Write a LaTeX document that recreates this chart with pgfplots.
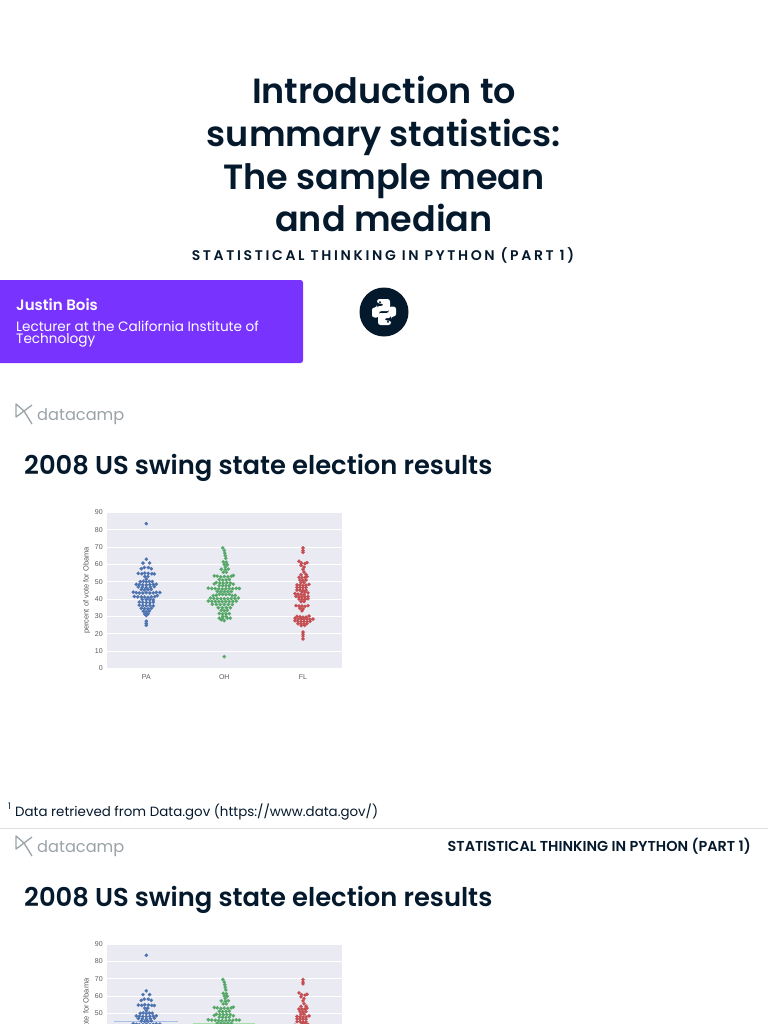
\documentclass[border=0pt]{standalone}
\usepackage{pgfplots}
\usepackage{pgfplotstable}
\usepackage{fontspec}
\pgfplotsset{compat=1.18}
\setmainfont{Poppins}
\newfontfamily\medfont{Poppins SemiBold}
\newfontfamily\plotfont{Liberation Sans}
\newfontfamily\spaced[LetterSpace=19]{Poppins SemiBold}

\definecolor{navy}{HTML}{05192D}
\definecolor{dcpurple}{HTML}{7933FF}
\definecolor{dcgrey}{HTML}{9BA3A8}
\definecolor{sbbg}{HTML}{EAEAF2}
\definecolor{sbtext}{HTML}{5A5A5A}
\definecolor{sbblue}{HTML}{4C72B0}
\definecolor{sbgreen}{HTML}{55A868}
\definecolor{sbred}{HTML}{C44E52}
\definecolor{meanblue}{HTML}{A9C0E8}
\definecolor{meangreen}{HTML}{A5E0A8}

% swarm positions: x is in reference pixels, PA=0, OH=78, FL=156.7
\pgfplotstableread{
x y
0 83.5
0 63
-3.3 60.8
3.3 60.8
-2 58.2
2 58.2
-5 57.5
5 57.5
-8 54.8
-4.5 54.6
-1.5 55
2 54.8
5.5 54.6
8 54.5
-1.5 53
1.5 53
0 51.5
-6 50
-3 50.3
0 49.9
3 50.2
6 50.1
-10 48.5
-7 48.3
-3.5 48.2
0 48.1
3.5 48.3
7 48.4
10 48.6
-8 47
-4 46.8
0 46.6
4 46.9
8 47.2
-5 45.5
-1.7 45.3
1.7 45.4
5 45.6
-13 44
-10 43.7
-7 43.5
-3.5 43.5
0 43.7
3.5 43.5
7 43.6
10 43.9
13.5 43.8
-12 41.5
-8.5 41.3
-5 41.2
-1.7 41.2
1.7 41
5 41.2
8.5 41.4
11 42
-4 39.8
0 39.7
3.5 39.6
7 39.5
-7 38.3
-3.5 38.1
0 38
3.5 37.9
7 38.2
-7 36.5
-3.5 36.3
0 36.2
3.5 36.3
7 36.1
-5 34.7
-1.7 34.5
1.7 34.4
5 34.7
-3 33
0 32.8
3 33.1
-1.7 31.4
1.7 31.5
0 30.5
0 27.2
0 25.9
0 24.9
}\tablePA

\pgfplotstableread{
x y
76.5 69.5
78 68
78.5 66.5
79 65
79.5 63.5
77 61.5
80 61.3
78 60
81 59.8
79 58.5
75 57.2
79 57
82 57.3
77 55.5
80 55.5
68 53.4
71 53.2
74.5 52.8
78 53
81.5 52.9
85 53.2
87 53.6
73 51.2
76.3 51
79.7 51.1
83 51.3
68 48.8
70 49.5
73.5 49.3
77 49.2
80.5 49.4
84 49.3
87 48.6
73 47.8
76.3 47.7
79.7 47.7
83 47.8
62 46.3
65.5 46.1
69 46
72.5 45.9
76 45.8
79.5 45.9
83 46
86.5 46
90 46.2
93 46.1
71 44.4
74.5 44.3
78 44.2
81.5 44.3
85 44.4
67 42
70 42.2
73 42.8
76.3 42.7
79.7 42.6
83 42.8
86 42
89 42.1
64 40.6
67.5 40.4
71 40.3
74.5 40.2
78 40.2
81.5 40.2
85 40.3
88.5 40.4
92 40.6
62 38.9
65.5 38.7
69 38.6
72.5 38.5
76 38.5
79.5 38.5
83 38.5
86.5 38.6
90 38.8
66 37
70 36.9
74 36.8
78 36.8
82 36.8
86 36.9
72 35
76 35
80 35
84 35
75 33.5
78 33.3
81 33.5
73 31.7
76.3 31.5
79.7 31.5
83 31.6
76.3 30
79.7 30
73 29
76.3 28.9
81 29
84 29
75 28
78 27.6
78 6.8
}\tableOH

\pgfplotstableread{
x y
156.7 69.5
156.7 68
156.7 67
152.7 61.8
155.2 60.8
158.7 60.5
160.7 61
154.7 59.5
157.7 58.5
156.7 57.2
157.7 55.6
154.7 54
159.7 54.2
152.7 52.5
155.7 52.4
158.7 52.5
160.7 53
153.7 51
156.7 50.8
159.7 51
154.7 49.5
157.7 49.5
150.7 48.2
153.7 48
156.7 47.8
159.7 48
162.7 48.5
150.7 46.8
153.7 46.6
156.7 46.6
159.7 46.7
150.7 45.2
153.7 45.2
156.7 45
159.7 45.1
155.7 44.2
158.7 44
161.7 43.6
148.7 43.2
151.7 42.8
154.7 42.7
157.7 42.6
149.7 41.6
152.7 41.2
155.7 41.3
158.7 41.3
161.7 41.5
152.7 40
155.7 39.9
158.7 39.9
161.7 40.2
154.7 38.5
157.7 38.6
149.7 36.2
152.7 36
155.7 36
158.7 35.8
161.7 36.2
153.7 34.6
156.7 34.3
155.7 33.2
150.7 30
153.7 29.8
156.7 29.5
159.7 29.6
162.7 30.2
148.7 29
151.7 28.5
154.7 28.4
157.7 28.3
160.7 28.6
163.7 28.3
166.7 28.5
148.7 27.5
151.7 27
154.7 27
157.7 27
160.7 27
163.7 27.2
151.7 25.8
154.7 25.7
157.7 25.7
160.7 25.9
155 24.7
158.4 24.8
156.7 21
156.7 19.8
156.7 18.6
156.7 17
}\tableFL

\pgfplotsset{
  swarm/.style={
    scale only axis, width=234.4pt, height=156pt,
    xmin=-39, xmax=195.4, ymin=0, ymax=90,
    xtick={0,78,156.7}, xticklabels={PA,OH,FL},
    ytick={0,10,...,90},
    axis background/.style={fill=sbbg},
    axis line style={draw=none},
    major tick length=0pt,
    ymajorgrids, grid style={white,line width=0.9pt},
    ticklabel style={font=\plotfont\fontsize{7}{8}\selectfont,text=sbtext},
    /pgf/number format/assume math mode=true,
    yticklabel style={xshift=-1pt},
    xticklabel style={yshift=-3pt},
    ylabel={percent of vote for Obama},
    ylabel style={font=\plotfont\fontsize{7.5}{8}\selectfont,text=sbtext,yshift=-2pt},
  },
  dots/.style={only marks,color=#1,mark=*,mark size=1.75pt,mark options={solid,draw=#1,fill=#1,line width=0.1pt}},
}

% small logo, anchored at its top left corner
\newcommand{\dclogo}[2]{%
  \draw[dcgrey,line width=1.3pt,line join=round] (#1,#2+1) -- (#1,#2+14) -- (#1+8,#2+8) -- cycle;
  \draw[dcgrey,line width=1.3pt] (#1+8,#2+8) -- (#1+16,#2+2) (#1+8,#2+8) -- (#1+16,#2+21);
  \node[anchor=west,inner sep=0pt,text=dcgrey,font=\fontsize{16.2}{18}\selectfont] at (#1+21,#2+13.5) {datacamp};
}

\begin{document}
\begin{tikzpicture}[x=1pt,y=-1pt]
\useasboundingbox (0,0) rectangle (768,1024);
\clip (0,0) rectangle (768,1024);
\fill[white] (0,0) rectangle (768,1024);

% title slide
\foreach \ty/\tx in {104/Introduction to,147/summary statistics:,190/The sample mean,232/and median}
  \node[anchor=base,text=navy,inner sep=0pt,font=\medfont\fontsize{35}{40}\selectfont] at (384,\ty) {\tx};
\node[text=navy,inner sep=0pt,font=\spaced\fontsize{14}{16}\selectfont] at (383,255) {STATISTICAL THINKING IN PYTHON (PART 1)};

\fill[dcpurple,rounded corners=2.5pt] (-6,280) rectangle (303,363);
\node[anchor=west,inner sep=0pt,text=white,font=\medfont\fontsize{15}{17}\selectfont] at (16,305) {Justin Bois};
\node[anchor=west,inner sep=0pt,text=white,font=\fontsize{13.6}{15}\selectfont] at (16,326) {Lecturer at the California Institute of};
\node[anchor=west,inner sep=0pt,text=white,font=\fontsize{13.6}{15}\selectfont] at (16,340) {Technology};

% python badge
\fill[navy] (384,312) circle (24.5);
\fill[white,rounded corners=2.5pt] (372,313) -- (372,307.5) -- (377,307.5) -- (377,306) -- (383.5,306) -- (383.5,303.5) -- (377,303.5) -- (377,299) -- (390,299) -- (390,311) -- (379,311) -- (379,317.5) -- (372,317.5) -- cycle;
\fill[white,rounded corners=2.5pt] (396,311) -- (396,316.5) -- (391,316.5) -- (391,318) -- (384.5,318) -- (384.5,320.5) -- (391,320.5) -- (391,325) -- (378,325) -- (378,313) -- (389,313) -- (389,306.5) -- (396,306.5) -- cycle;
\fill[navy] (380,302.3) circle (1.1) (388,321.7) circle (1.1);

% first chart slide
\dclogo{16}{403}
\node[anchor=base west,inner sep=0pt,text=navy,font=\medfont\fontsize{25.8}{30}\selectfont] at (24,474) {2008 US swing state election results};

\begin{axis}[swarm,at={(107.3pt,-668.4pt)},anchor=south west]
\addplot[dots=sbblue] table[x=x,y=y] {\tablePA};
\addplot[dots=sbgreen] table[x=x,y=y] {\tableOH};
\addplot[dots=sbred] table[x=x,y=y] {\tableFL};
\end{axis}

\node[anchor=west,inner sep=0pt,text=navy,font=\fontsize{13.4}{16}\selectfont] at (15,811.5) {Data retrieved from Data.gov (https://www.data.gov/)};
\node[anchor=west,inner sep=0pt,text=navy,font=\fontsize{9}{10}\selectfont] at (8,806.5) {1};
\draw[gray!25,line width=0.8pt] (0,828) -- (768,828);

% second chart slide, cut off by the page
\dclogo{16}{835}
\node[anchor=east,inner sep=0pt,text=navy,font=\medfont\fontsize{14.4}{15}\selectfont] at (751,846) {STATISTICAL THINKING IN PYTHON (PART 1)};
\node[anchor=base west,inner sep=0pt,text=navy,font=\medfont\fontsize{25.8}{30}\selectfont] at (24,906) {2008 US swing state election results};

\begin{axis}[swarm,at={(107.3pt,-1100pt)},anchor=south west]
\addplot[meanblue,line width=1.2pt] coordinates {(-32.3,45.2) (31.4,45.2)};
\addplot[meangreen,line width=1.2pt] coordinates {(46.4,44.3) (108.7,44.3)};
\addplot[dots=sbblue] table[x=x,y=y] {\tablePA};
\addplot[dots=sbgreen] table[x=x,y=y] {\tableOH};
\addplot[dots=sbred] table[x=x,y=y] {\tableFL};
\end{axis}
\end{tikzpicture}
\end{document}
